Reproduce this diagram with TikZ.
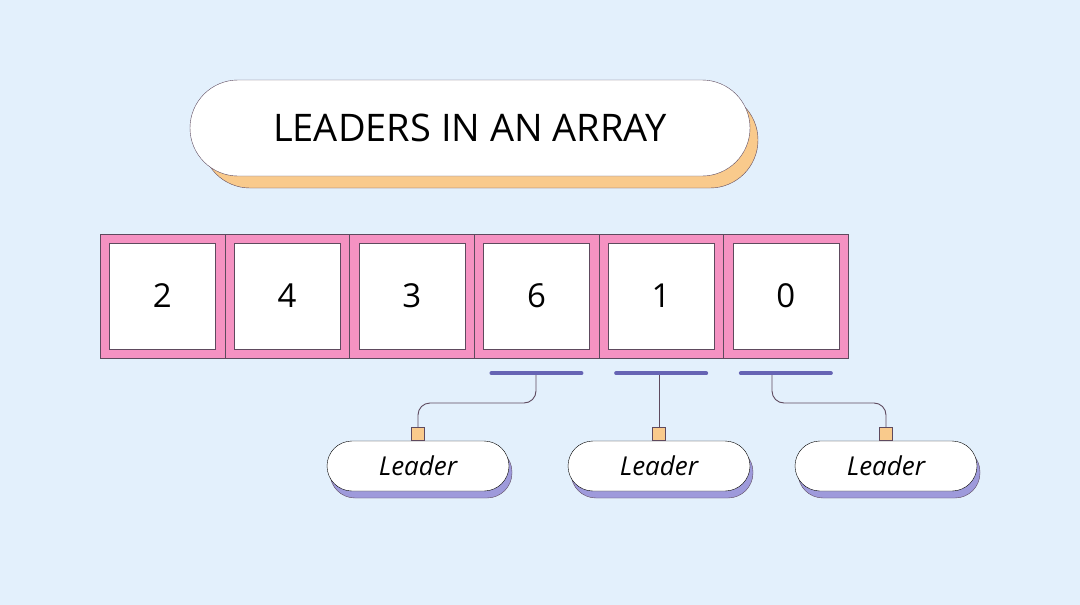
\documentclass[tikz,border=0pt]{standalone}
\usepackage{fontspec}
\setmainfont{Open Sans}
\usetikzlibrary{positioning}
\definecolor{bgblue}{HTML}{E3F0FC}
\definecolor{cellpink}{HTML}{F592C2}
\definecolor{edgedark}{HTML}{5E4A5E}
\definecolor{barpurple}{HTML}{6664B4}
\definecolor{shadepurple}{HTML}{9E9ADB}
\definecolor{shadeorange}{HTML}{F9CA8C}
\tikzset{
  cell/.style={draw=edgedark, fill=cellpink, minimum width=124.7pt, minimum height=124pt, inner sep=0pt},
  inner/.style={draw=edgedark, fill=white, minimum width=106pt, minimum height=106pt, font=\fontsize{33pt}{33pt}\selectfont},
  leader/.style={draw=black, fill=white, rounded corners=25pt, minimum width=182pt, minimum height=50pt, font=\fontsize{26pt}{26pt}\selectfont\itshape},
  tab/.style={draw=edgedark, fill=shadeorange, minimum size=13pt, inner sep=0pt},
  link/.style={draw=edgedark, line width=0.9pt, rounded corners=12pt}
}
\begin{document}
\begin{tikzpicture}[x=1pt, y=-1pt]
\fill[bgblue] (0,0) rectangle (1080,605);
\useasboundingbox (0,0) rectangle (1080,605);

% title
\filldraw[fill=shadeorange, draw=edgedark, rounded corners=48pt] (202,92) rectangle (758,188);
\node[draw=edgedark, fill=white, rounded corners=48pt, minimum width=560pt, minimum height=96pt,
  font=\fontsize{38pt}{38pt}\selectfont] (title) at (470,128) {LEADERS IN AN ARRAY};

% array
\foreach \v [count=\i from 0] in {2,4,3,6,1,0} {
  \node[cell] (c\i) at ({162.35+124.7*\i},296) {};
  \node[inner] (v\i) at (c\i) {\v};
}

% bars
\foreach \i in {3,4,5}
  \draw[barpurple, line width=4pt, line cap=round] ([xshift=-45pt, yshift=-15pt]c\i.south) -- ([xshift=45pt, yshift=-15pt]c\i.south);
\coordinate (b3) at (536,375);
\coordinate (b4) at (659,375);
\coordinate (b5) at (772,375);

% leaders
\foreach \n/\x in {l3/418, l4/659, l5/886} {
  \filldraw[fill=shadepurple, draw=edgedark, rounded corners=25pt] ({\x-88},447) rectangle ({\x+94},498);
  \node[leader] (\n) at (\x,466) {Leader};
  \node[tab, above=0pt of \n] (t\n) {};
}

\draw[link] (b3) -- (536,403) -- (418,403) -- (tl3.north);
\draw[link] (b4) -- (tl4.north);
\draw[link] (b5) -- (772,403) -- (886,403) -- (tl5.north);
\end{tikzpicture}
\end{document}
